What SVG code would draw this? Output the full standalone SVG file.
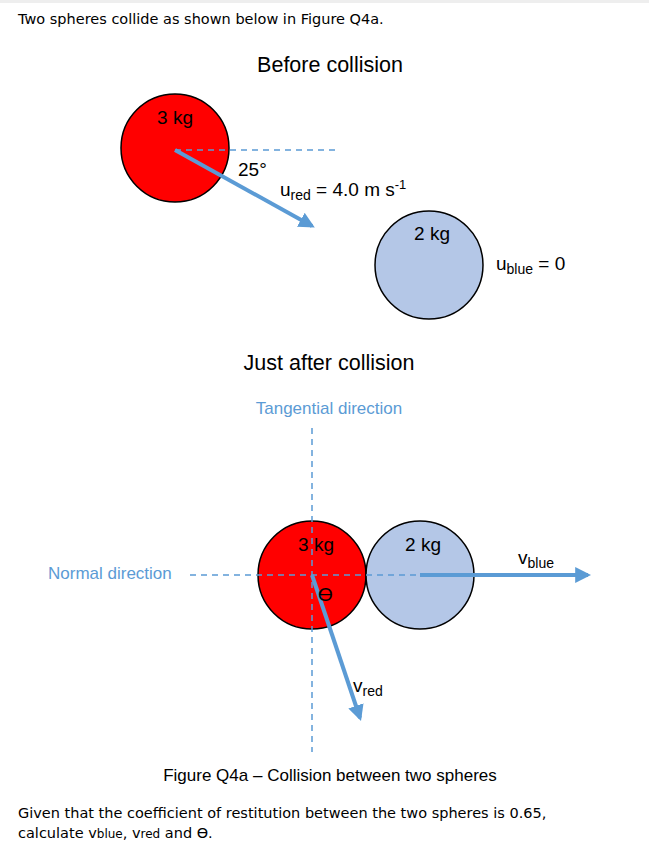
<svg xmlns="http://www.w3.org/2000/svg" width="649" height="858" viewBox="0 0 649 858">
<style>
.t{font-family:"Liberation Sans",Arial,sans-serif;fill:#000}
.v{font-family:"DejaVu Sans",Verdana,sans-serif;fill:#000}
.lb{font-family:"Liberation Sans",sans-serif;fill:#5b9bd5}
.dash{stroke:#5b9bd5;stroke-width:1.5;stroke-dasharray:6,5;fill:none}
.arr{stroke:#5b9bd5;stroke-width:4;fill:none}
.red{fill:#ff0000;stroke:#000;stroke-width:1.5}
.blue{fill:#b4c7e7;stroke:#000;stroke-width:1.5}
</style>
<defs>
<marker id="ah" viewBox="0 0 10 10" refX="8" refY="5" markerWidth="4" markerHeight="4" orient="auto" markerUnits="strokeWidth"><path d="M0,0L10,5L0,10z" fill="#5b9bd5"/></marker>
</defs>
<rect width="649" height="858" fill="#fff"/>
<rect width="649" height="3" fill="#eee"/>
<text class="v" x="18" y="24" font-size="14.5">Two spheres collide as shown below in Figure Q4a.</text>
<text class="t" x="330" y="72" font-size="21.5" text-anchor="middle">Before collision</text>
<g id="red1"><circle class="red" cx="175" cy="148" r="54"/><text class="t" x="175" y="124" font-size="19" text-anchor="middle">3 kg</text></g>
<g id="blue1"><circle class="blue" cx="429" cy="265" r="54"/><text class="t" x="432" y="240" font-size="19" text-anchor="middle">2 kg</text></g>
<g id="red2"><circle class="red" cx="312" cy="575" r="54"/><text class="t" x="316" y="551" font-size="19" text-anchor="middle">3 kg</text></g>
<g id="blue2"><circle class="blue" cx="420" cy="575" r="54"/><text class="t" x="423" y="551" font-size="19" text-anchor="middle">2 kg</text></g>
<g id="connectors">
<line class="dash" x1="175" y1="150" x2="335" y2="150"/>
<line class="arr" x1="175" y1="150" x2="312" y2="226" marker-end="url(#ah)"/>
<line class="dash" x1="312" y1="428" x2="312" y2="752"/>
<line class="dash" x1="190" y1="575" x2="420" y2="575"/>
<line class="arr" x1="420" y1="575" x2="588" y2="575" marker-end="url(#ah)"/>
<line class="arr" x1="312" y1="575" x2="360" y2="718" marker-end="url(#ah)"/>
</g>
<text class="t" x="238" y="176" font-size="19">25°</text>
<text class="t" x="280" y="196" font-size="19">u<tspan font-size="14" dy="4">red</tspan><tspan dy="-4"> = 4.0 m s</tspan><tspan font-size="13" dy="-7">-1</tspan></text>
<text class="t" x="496" y="270" font-size="19">u<tspan font-size="14" dy="4">blue</tspan><tspan dy="-4"> = 0</tspan></text>
<text class="t" x="329" y="370" font-size="21.5" text-anchor="middle">Just after collision</text>
<text class="lb" x="329" y="414" font-size="17" text-anchor="middle">Tangential direction</text>
<text class="lb" x="48" y="579" font-size="17">Normal direction</text>
<text class="t" x="318" y="601" font-size="19">ϴ</text>
<text class="t" x="518" y="564" font-size="19">v<tspan font-size="14" dy="4">blue</tspan></text>
<text class="t" x="353" y="692" font-size="19">v<tspan font-size="14" dy="4">red</tspan></text>
<text class="t" x="330" y="781" font-size="17" text-anchor="middle">Figure Q4a – Collision between two spheres</text>
<text class="v" x="18" y="818" font-size="14.5">Given that the coefficient of restitution between the two spheres is 0.65,</text>
<text class="v" x="18" y="838" font-size="14.5">calculate v<tspan font-size="12">blue</tspan>, v<tspan font-size="12">red</tspan> and ϴ.</text>
</svg>
